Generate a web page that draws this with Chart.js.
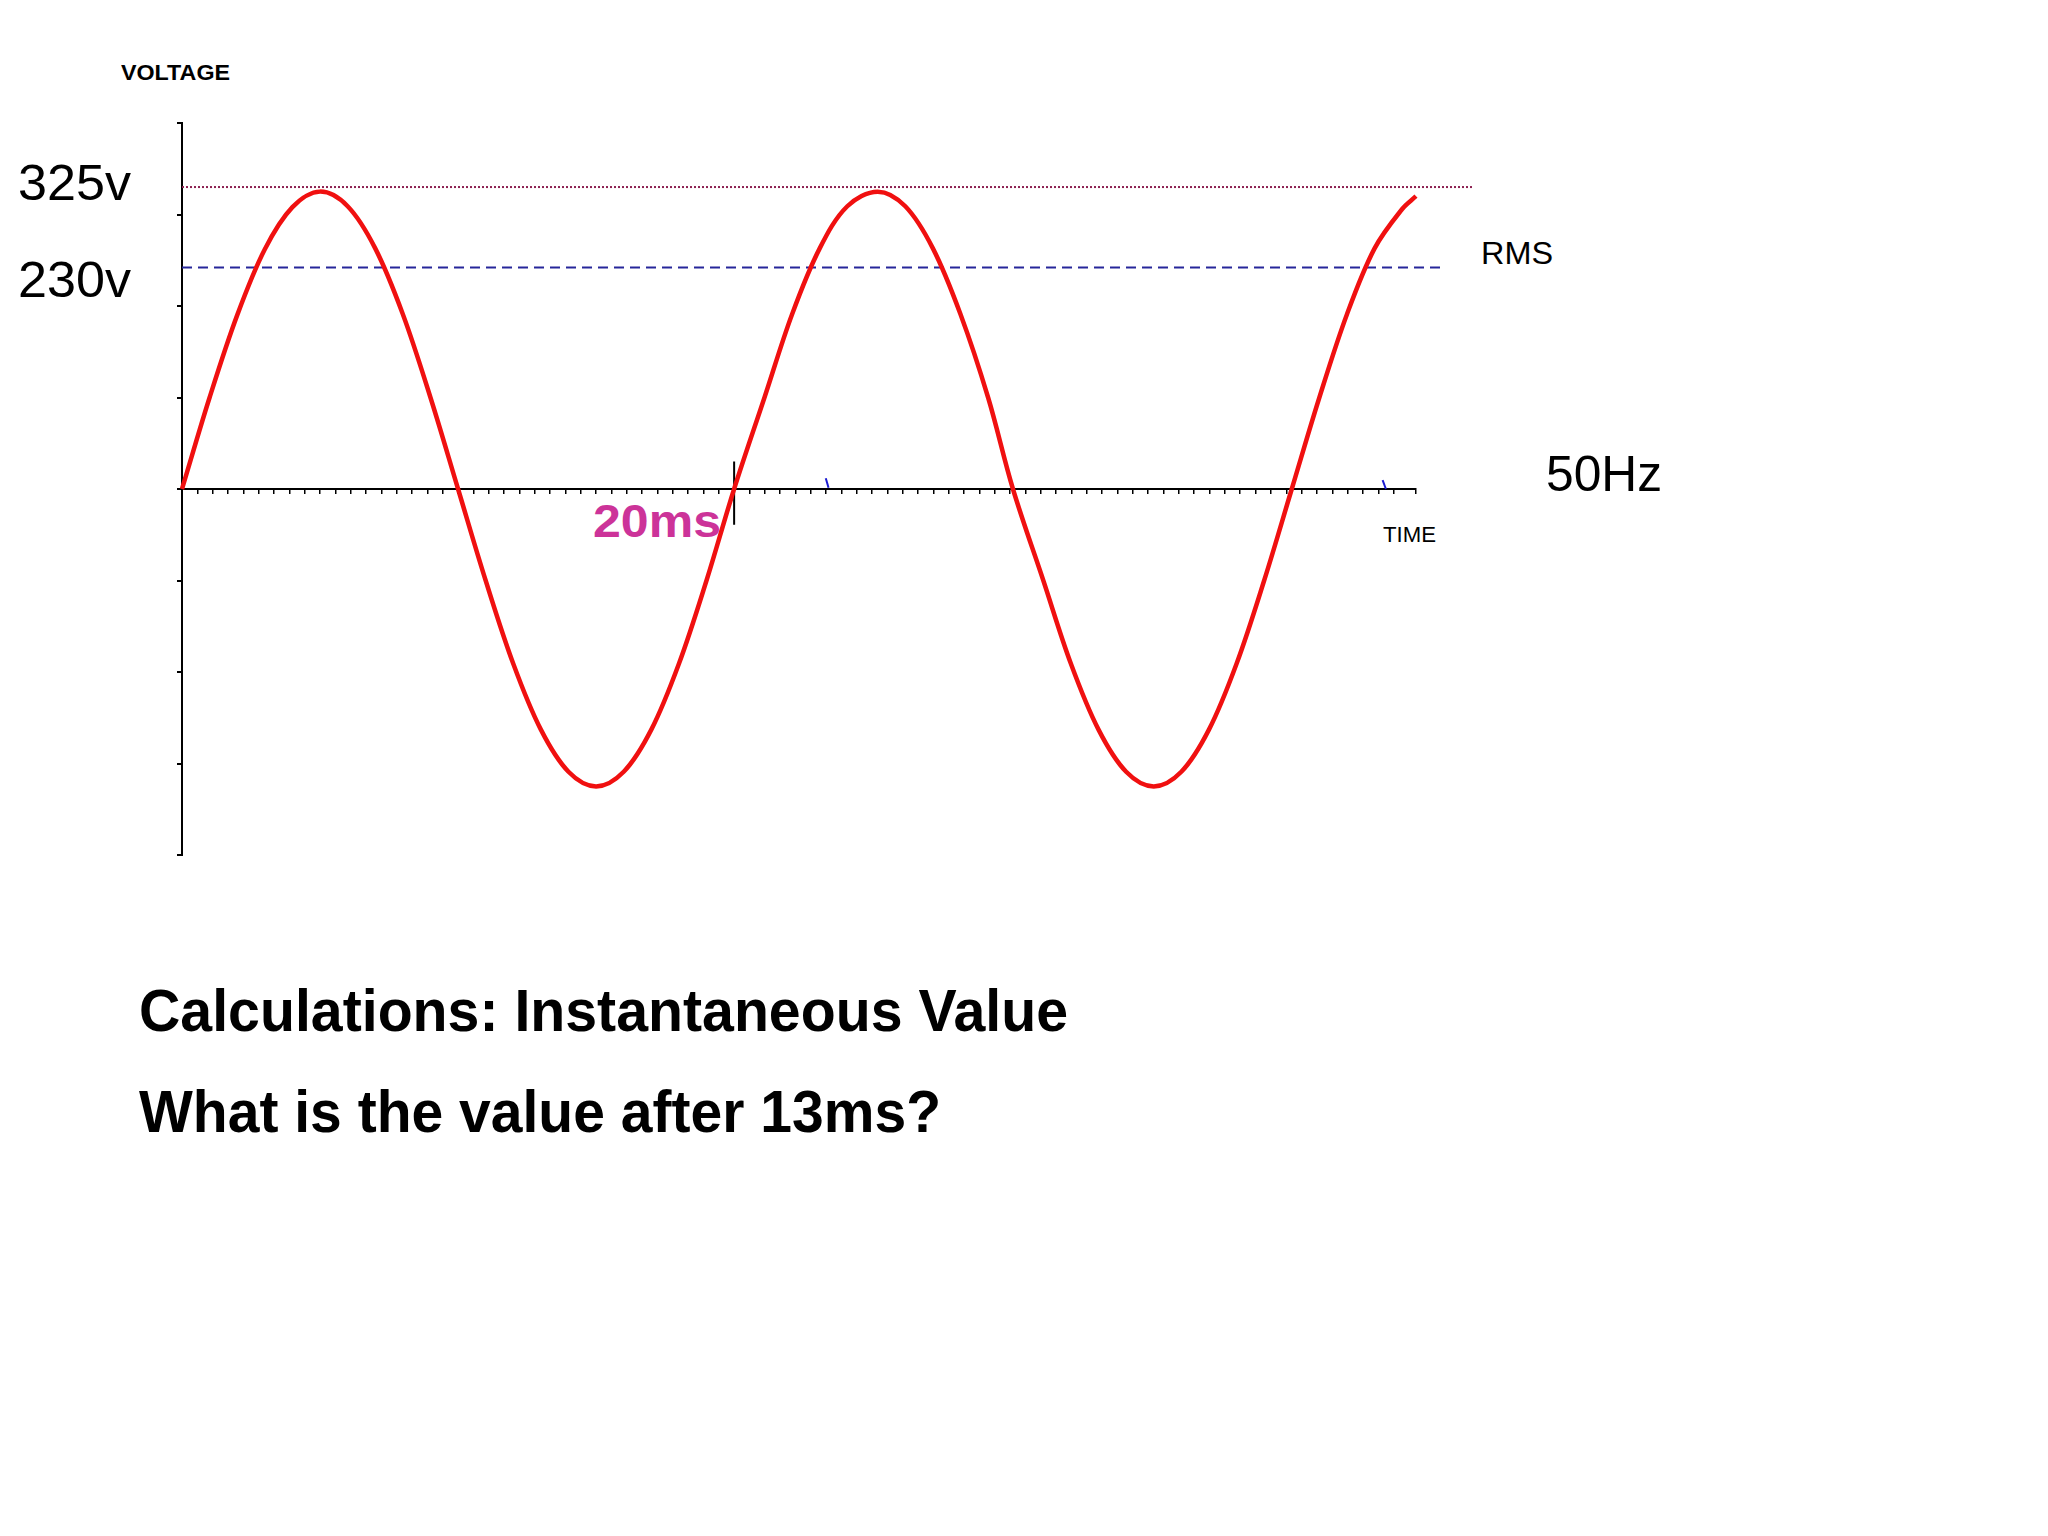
<!DOCTYPE html>
<html>
<head>
<meta charset="utf-8">
<title>Instantaneous Value</title>
<script src="https://cdn.jsdelivr.net/npm/chart.js@4"></script>
<style>
    body { margin: 0; background: #ffffff; }
    #wrap { position: relative; width: 2048px; height: 1536px; overflow: hidden; }
    #chartBox { position: absolute; left: 0; top: 0; width: 2048px; height: 1536px; z-index: 2; }
    .lbl {
        position: absolute;
        white-space: nowrap;
        font-family: "Liberation Sans", Arial, sans-serif;
        color: #000;
        transform-origin: 0 0;
        z-index: 1;
    }
    .bold { font-weight: bold; }
</style>
</head>
<body>
<div id="wrap">
    <div class="lbl bold" data-x="121" data-base="81" data-size="22" data-w="109">VOLTAGE</div>
    <div class="lbl" data-x="18" data-base="200" data-size="50" data-w="113">325v</div>
    <div class="lbl" data-x="18" data-base="297" data-size="50" data-w="113">230v</div>
    <div class="lbl" data-x="1481" data-base="264" data-size="32" data-w="72">RMS</div>
    <div class="lbl" data-x="1546" data-base="491" data-size="50" data-w="116">50Hz</div>
    <div class="lbl" data-x="1383" data-base="543" data-size="22" data-w="53">TIME</div>
    <div class="lbl bold" data-x="593" data-base="537" data-size="46" data-w="128" style="color:#cc3399">20ms</div>
    <div class="lbl bold" data-x="139" data-base="1032" data-size="60" data-w="929">Calculations: Instantaneous Value</div>
    <div class="lbl bold" data-x="139" data-base="1133" data-size="60" data-w="802">What is the value after 13ms?</div>
    <div id="chartBox"><canvas id="waveChart"></canvas></div>
</div>

<script>
// Data (time in ms, voltage in V)
// the second cycle is drawn a little wider than the first in the original
const timeMs = [0, 1, 2, 3, 4, 5, 6, 7, 8, 9, 10, 11, 12, 13, 14, 15, 16, 17, 18, 19, 20,
                21.1, 22.1, 23.1, 24.1, 25.2, 26.2, 27.2, 28.2, 29.2, 30.1, 31.2, 32.2, 33.2, 34.2, 35.2,
                36.2, 37.2, 38.2, 39.2, 40.2, 41.2, 42.2, 43.2, 44.2, 44.7];
const voltage = [0, 100, 190, 262, 308, 325, 309, 263, 191, 100, 0, -100, -191, -263, -309, -325, -309, -263, -191, -100, 0,
                 100, 191, 263, 309, 325, 309, 263, 191, 100, 0, -100, -191, -263, -309, -325,
                 -309, -263, -191, -100, 0, 100, 191, 263, 306, 320];

// Reference lines
const peakLineX = [0, 46.8];
const peakLineY = [330, 330];
const rmsLineX = [0, 45.6];
const rmsLineY = [242, 242];

// 20ms marker on the time axis
const markerX = [20, 20];
const markerY = [30, -39];

// small stray pen marks on the axis
const strayA = [[23.32, 11.7], [23.42, 1.4]];
const strayB = [[43.49, 9.8], [43.61, 0]];

// Axis ranges
const timeMin = 0;
const timeMax = 44.7;
const voltMin = -400;
const voltMax = 400;
const voltStep = 100;

function toPoints(xs, ys) {
    return xs.map((x, i) => ({ x: x, y: ys[i] }));
}

// place html labels on their baseline and squeeze them to the measured width
function placeLabels() {
    document.querySelectorAll('.lbl').forEach(el => {
        const fs = parseFloat(el.dataset.size);
        el.style.fontSize = fs + 'px';
        el.style.lineHeight = fs + 'px';
        el.style.left = el.dataset.x + 'px';
        el.style.top = (parseFloat(el.dataset.base) - 0.8465 * fs) + 'px';
        const natural = el.getBoundingClientRect().width;
        if (natural > 0) {
            el.style.transform = 'scaleX(' + (parseFloat(el.dataset.w) / natural) + ')';
        }
    });
}

document.addEventListener("DOMContentLoaded", () => {
    placeLabels();

    const ctx = document.getElementById('waveChart').getContext('2d');
    new Chart(ctx, {
        type: 'line',
        data: {
            datasets: [
                {
                    label: 'Voltage',
                    data: toPoints(timeMs, voltage),
                    borderColor: '#f01010',
                    borderWidth: 4.5,
                    pointRadius: 0,
                    tension: 0.35,
                    fill: false,
                    clip: false
                },
                {
                    label: 'Peak',
                    data: toPoints(peakLineX, peakLineY),
                    borderColor: '#8c2050',
                    borderWidth: 2,
                    borderDash: [2, 2],
                    pointRadius: 0,
                    clip: false
                },
                {
                    label: 'RMS',
                    data: toPoints(rmsLineX, rmsLineY),
                    borderColor: '#26269a',
                    borderWidth: 2,
                    borderDash: [10, 6],
                    pointRadius: 0,
                    clip: false
                },
                {
                    label: '20ms',
                    data: toPoints(markerX, markerY),
                    borderColor: '#000000',
                    borderWidth: 2,
                    pointRadius: 0,
                    clip: false
                },
                {
                    label: 'markA',
                    data: strayA.map(p => ({ x: p[0], y: p[1] })),
                    borderColor: '#1a1ad0',
                    borderWidth: 2,
                    pointRadius: 0
                },
                {
                    label: 'markB',
                    data: strayB.map(p => ({ x: p[0], y: p[1] })),
                    borderColor: '#1a1ad0',
                    borderWidth: 2,
                    pointRadius: 0
                }
            ]
        },
        options: {
            responsive: true,
            maintainAspectRatio: false,
            animation: false,
            layout: {
                padding: { left: 177, right: 632, top: 123, bottom: 681 }
            },
            plugins: {
                legend: { display: false },
                tooltip: { enabled: false }
            },
            scales: {
                x: {
                    type: 'linear',
                    min: timeMin,
                    max: timeMax,
                    position: { y: 0 },
                    border: { display: true, color: '#000', width: 2 },
                    grid: {
                        drawOnChartArea: false,
                        drawTicks: true,
                        tickLength: 4,
                        color: '#000',
                        lineWidth: 1.5
                    },
                    ticks: { display: false, stepSize: 20 / 36, autoSkip: false }
                },
                y: {
                    type: 'linear',
                    min: voltMin,
                    max: voltMax,
                    position: 'left',
                    border: { display: true, color: '#000', width: 2 },
                    grid: {
                        drawOnChartArea: false,
                        drawTicks: true,
                        tickLength: 5,
                        color: '#000',
                        lineWidth: 2
                    },
                    ticks: { display: false, stepSize: voltStep }
                }
            }
        }
    });
});
</script>
</body>
</html>
